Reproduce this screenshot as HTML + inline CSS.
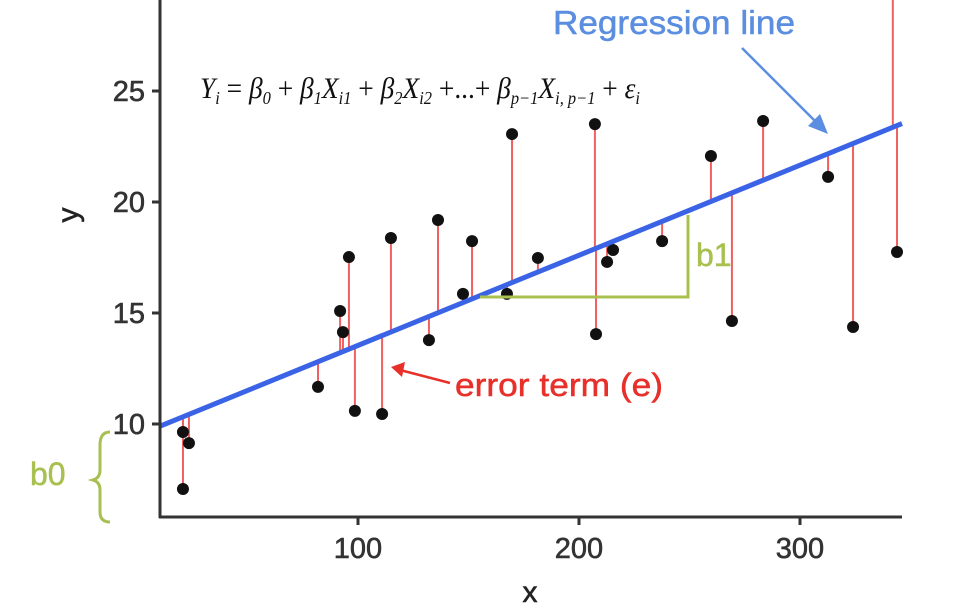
<!DOCTYPE html>
<html><head><meta charset="utf-8"><style>
html,body{margin:0;padding:0;background:#fff;}
svg{display:block;font-family:"Liberation Sans",sans-serif;}
</style></head><body>
<svg id="chart" width="964" height="606" viewBox="0 0 964 606">
<g id="resid"></g>
<g id="pts"></g>
<line id="regline" stroke="#3a63e6" stroke-width="5"/>
<line x1="160" y1="0" x2="160" y2="518" stroke="#333" stroke-width="3"/>
<line x1="159" y1="517" x2="902" y2="517" stroke="#333" stroke-width="3"/>
<g id="yticks"></g>
<g id="xticks"></g>
<text x="0" y="0" transform="translate(78,215) rotate(-90)" text-anchor="middle" font-size="30" fill="#222" stroke="#222" stroke-width="0.6">y</text>
<text x="530" y="602" text-anchor="middle" font-size="30" fill="#222" stroke="#222" stroke-width="0.6">x</text>
<text x="200" y="98" textLength="440" lengthAdjust="spacingAndGlyphs" font-family="Liberation Serif,serif" font-size="30" font-style="italic" fill="#111">Y<tspan font-size="18" dy="6">i</tspan><tspan dy="-6" font-style="normal"> = </tspan>β<tspan font-size="18" dy="6">0</tspan><tspan dy="-6" font-style="normal"> + </tspan>β<tspan font-size="18" dy="6">1</tspan><tspan dy="-6">X</tspan><tspan font-size="18" dy="6">i1</tspan><tspan dy="-6" font-style="normal"> + </tspan>β<tspan font-size="18" dy="6">2</tspan><tspan dy="-6">X</tspan><tspan font-size="18" dy="6">i2</tspan><tspan dy="-6" font-style="normal"> +...+ </tspan>β<tspan font-size="18" dy="6">p−1</tspan><tspan dy="-6">X</tspan><tspan font-size="18" dy="6">i, p−1</tspan><tspan dy="-6" font-style="normal"> + </tspan>ε<tspan font-size="18" dy="6">i</tspan></text>
<text x="553" y="34" textLength="242" lengthAdjust="spacingAndGlyphs" font-size="33" fill="#5b8ee0" stroke="#5b8ee0" stroke-width="0.5">Regression line</text>
<line x1="742" y1="48" x2="820" y2="126" stroke="#5b8ee0" stroke-width="2.5"/>
<polygon points="828,134 808,126 820,114" fill="#5b8ee0"/>
<text x="455" y="396" textLength="208" lengthAdjust="spacingAndGlyphs" font-size="32" fill="#e8302a" stroke="#e8302a" stroke-width="0.5">error term (e)</text>
<line x1="450" y1="383" x2="400" y2="370" stroke="#e8302a" stroke-width="2.5"/>
<polygon points="391,367 405,362 402,377" fill="#e8302a"/>
<polyline points="480,297 688,297 688,215" fill="none" stroke="#a8c050" stroke-width="3"/>
<text x="696" y="266" font-size="32" fill="#a8c050" stroke="#a8c050" stroke-width="0.5">b1</text>
<path d="M110,432 Q100,432 100,445 L100,470 Q100,478 93,480 Q100,482 100,490 L100,512 Q100,522 110,522" fill="none" stroke="#a8c050" stroke-width="3"/>
<text x="30" y="485" font-size="32" fill="#a8c050" stroke="#a8c050" stroke-width="0.5">b0</text>
</svg>
<script>
const xs=[20.8,20.8,23.5,81.9,91.9,93.2,95.9,98.6,110.9,114.9,132.1,136.2,147.5,151.6,167.4,169.7,181.4,207.2,207.7,212.7,215.4,237.6,259.7,269.2,283.3,312.7,324.0,343.9,342.0];
const ys=[7.07,9.64,9.14,11.67,15.09,14.14,17.52,10.59,10.45,18.38,13.78,19.19,15.86,18.24,15.86,23.06,17.48,23.51,14.05,17.30,17.84,18.24,22.07,14.64,23.65,21.13,14.37,17.75,31.0];
const b0=9.48, b1=0.0406;
const yTickVals=[10,15,20,25];
const xTickVals=[100,200,300];
const X=v=>358+(v-100)*2.21;
const Y=v=>424-(v-10)*22.2;
const NS="http://www.w3.org/2000/svg";
function mk(t,a){const e=document.createElementNS(NS,t);for(const k in a)e.setAttribute(k,a[k]);return e;}
const rl=document.getElementById('regline');
rl.setAttribute('x1',160);rl.setAttribute('y1',Y(b0+b1*((160-358)/2.21+100)));
rl.setAttribute('x2',902);rl.setAttribute('y2',Y(b0+b1*((902-358)/2.21+100)));
const rg=document.getElementById('resid'),pg=document.getElementById('pts');
xs.forEach((x,i)=>{
 const l=mk('line',{x1:X(x),x2:X(x),y1:Y(ys[i]),y2:Y(b0+b1*x),stroke:'#f06060','stroke-width':2});
 
 
 rg.appendChild(l);
 const c=mk('circle',{cx:X(x),cy:Y(ys[i]),r:6,fill:'#111'});
 
 
 pg.appendChild(c);
});
const yt=document.getElementById('yticks');
yTickVals.forEach(v=>{
 const t=mk('text',{x:145,y:Y(v)+10,'text-anchor':'end','font-size':29,fill:'#333',stroke:'#333','stroke-width':0.6});t.textContent=v;
 
 
 yt.appendChild(t);
 const m=mk('line',{x1:152,x2:160,y1:Y(v),y2:Y(v),stroke:'#333','stroke-width':3});
 
 
 yt.appendChild(m);
});
const xt=document.getElementById('xticks');
xTickVals.forEach(v=>{
 const t=mk('text',{x:X(v),y:558,'text-anchor':'middle','font-size':29,fill:'#333',stroke:'#333','stroke-width':0.6});t.textContent=v;
 
 
 xt.appendChild(t);
 const m=mk('line',{x1:X(v),x2:X(v),y1:517,y2:525,stroke:'#333','stroke-width':3});
 
 
 xt.appendChild(m);
});
</script>
</body></html>
